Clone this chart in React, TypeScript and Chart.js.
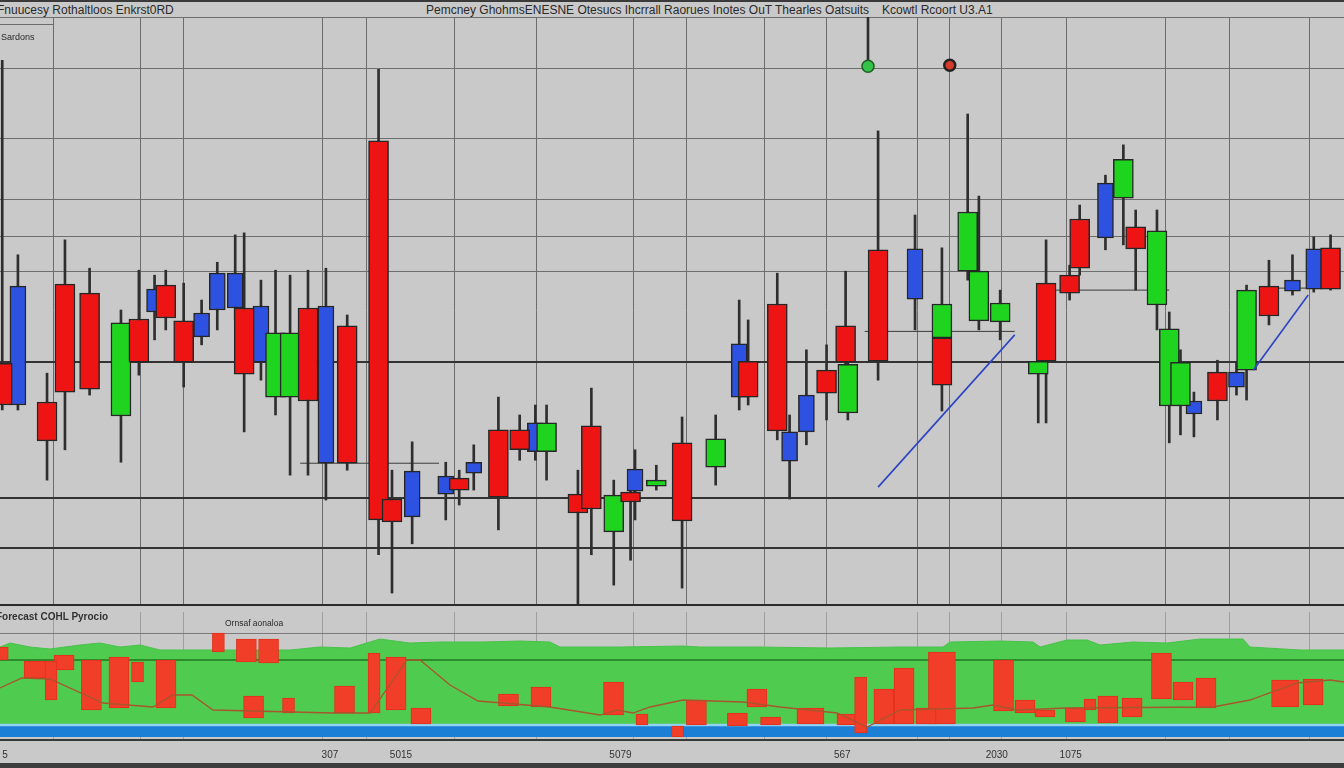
import React, { useEffect, useRef } from "react";
import { Chart, registerables } from "chart.js";

Chart.register(...registerables);

// ---------------- main panel data (time in session slots, price in points) ----------------
const candleTime = [
  0.1, 0.8, 2.1, 2.9, 4.0, 5.4, 6.2, 6.9, 7.4, 8.2,
  9.0, 9.7, 10.5, 10.9, 11.65, 12.3, 12.95, 13.75, 14.55, 15.5,
  16.9, 17.5, 18.4, 19.9, 20.5, 21.15, 22.25, 23.2, 23.9, 24.4,
  25.8, 26.4, 27.4, 28.15, 28.35, 29.3, 30.45, 31.95, 33.0, 33.4,
  34.7, 35.25, 36.0, 36.9, 37.75, 37.85, 39.2, 40.85, 42.05, 42.05,
  43.2, 43.7, 44.65, 46.35, 46.7, 47.75, 48.2, 49.35, 50.15, 50.7,
  51.65, 52.2, 52.7, 53.3, 54.35, 55.2, 55.65, 56.65, 57.7, 58.65,
  59.4,
];
const candleKind = [
  "down", "flat", "down", "down", "down", "up", "down", "flat", "down", "down",
  "flat", "flat", "flat", "down", "flat", "up", "up", "down", "flat", "down",
  "down", "down", "flat", "flat", "down", "flat", "down", "down", "flat", "up",
  "down", "down", "up", "down", "flat", "up", "down", "up", "flat", "down",
  "down", "flat", "flat", "down", "down", "up", "down", "flat", "up", "down",
  "up", "up", "up", "up", "down", "down", "down", "flat", "up", "down",
  "up", "up", "up", "flat", "down", "flat", "up", "down", "flat", "flat",
  "down",
];
const candleOpen = [
  48.6, 40.2, 40.8, 64.5, 62.7, 38.0, 57.5, 58.9, 64.3, 57.1,
  53.9, 59.3, 59.7, 59.7, 48.8, 41.8, 41.8, 59.7, 28.5, 56.1,
  93.3, 21.3, 17.7, 22.3, 25.5, 26.5, 35.2, 35.2, 30.8, 30.8,
  22.3, 36.0, 14.7, 22.7, 22.9, 23.9, 32.6, 27.7, 41.8, 49.0,
  60.5, 28.9, 34.8, 47.2, 56.1, 38.6, 71.4, 61.5, 53.7, 53.7,
  67.1, 57.1, 56.9, 46.4, 64.7, 66.3, 77.6, 73.8, 81.8, 76.0,
  60.3, 40.0, 40.0, 38.4, 46.8, 43.8, 47.2, 64.1, 63.1, 63.5,
  71.8,
];
const candleHigh = [
  109.5, 70.4, 46.6, 73.4, 67.7, 59.3, 67.3, 66.3, 67.3, 64.7,
  61.3, 68.9, 74.4, 74.8, 65.3, 67.3, 66.3, 67.3, 67.7, 58.3,
  107.7, 27.1, 32.8, 28.7, 27.1, 32.2, 41.8, 38.2, 40.2, 40.2,
  27.1, 43.6, 25.1, 27.1, 31.2, 28.1, 37.8, 38.2, 61.3, 57.3,
  66.7, 38.2, 51.3, 52.3, 67.1, 48.8, 95.3, 78.4, 71.8, 53.7,
  98.7, 82.2, 63.3, 50.3, 73.4, 68.3, 80.4, 86.4, 92.5, 79.4,
  79.4, 58.9, 51.3, 42.8, 49.2, 48.8, 64.3, 69.3, 70.4, 74.0,
  74.4,
];
const candleLow = [
  39.2, 39.2, 25.1, 31.2, 42.2, 28.7, 46.2, 53.3, 55.3, 43.8,
  52.3, 55.3, 57.3, 34.8, 45.2, 38.2, 26.1, 26.1, 21.1, 27.1,
  10.1, 2.4, 12.3, 17.1, 20.1, 23.1, 15.1, 29.1, 29.1, 25.1,
  0, 10.1, 4.0, 9.0, 17.1, 23.1, 3.4, 24.1, 39.2, 40.2,
  33.2, 21.3, 32.2, 37.2, 47.2, 37.2, 45.2, 55.3, 53.3, 39.0,
  65.3, 55.3, 53.3, 36.6, 36.6, 61.3, 66.3, 71.4, 72.4, 63.3,
  55.3, 32.6, 34.2, 33.8, 37.2, 42.2, 41.2, 56.3, 62.3, 62.9,
  63.3,
];
const candleClose = [
  40.2, 64.1, 33.0, 42.8, 43.4, 56.7, 48.8, 63.5, 57.7, 48.8,
  58.7, 66.7, 66.7, 46.4, 60.1, 54.7, 54.7, 41.0, 60.1, 28.5,
  17.1, 16.7, 26.9, 25.9, 23.1, 28.7, 21.7, 31.2, 36.6, 36.6,
  18.5, 19.3, 22.1, 20.7, 27.3, 25.1, 16.9, 33.4, 52.5, 41.8,
  35.0, 34.8, 42.2, 42.6, 48.8, 48.4, 49.0, 71.6, 60.5, 44.2,
  79.0, 67.1, 60.7, 49.0, 49.0, 62.7, 67.7, 84.8, 89.6, 71.6,
  75.2, 55.5, 48.8, 41.0, 41.0, 46.8, 63.3, 58.1, 65.3, 71.6,
  63.5,
];

const priceGridLevels = [11.5, 21.5, 48.8, 67.1, 74.0, 81.6, 93.7, 107.9, 118.2];
const heavyPriceLevels = [11.5, 21.5, 48.8];
const timeGridLines = [2.37, 6.25, 8.21, 14.38, 16.34, 20.31, 23.97, 28.26, 30.63, 34.15, 36.88, 40.94, 42.41, 44.73, 47.59, 52.01, 54.91, 58.44];

const trendLineA = [[39.2, 23.7], [45.3, 54.3]];
const trendLineB = [[55.95, 47.2], [58.4, 62.3]];
const levelSegments = [[13.4, 19.6, 28.5], [46.9, 52.2, 63.3], [56.8, 58.6, 63.7], [38.6, 45.3, 55.0]];
const buySignal = [38.75, 108.3];
const sellSignal = [42.4, 108.5];

// ---------------- lower panel data ----------------
const flowTime = [
  0, 0.45, 1.34, 2.23, 3.57, 4.46, 5.36, 6.25, 7.14, 8.93,
  11.16, 12.95, 14.29, 15.63, 16.96, 18.3, 19.64, 21.56, 23.21, 24.55,
  25.0, 27.68, 30.49, 31.25, 33.93, 37.05, 40.18, 42.1, 42.41, 44.64,
  46.12, 46.43, 47.63, 48.53, 49.11, 50.58, 52.1, 53.57, 55.49, 55.8,
  58.04, 60,
];
const flowLevel = [
  93, 97, 93, 91, 95, 97, 93, 95, 90, 90,
  90, 90, 93, 92, 101, 97, 98, 98, 99, 98,
  93, 93, 94, 93, 93, 92, 93, 93, 98, 99,
  98, 93, 100, 100, 95, 98, 97, 101, 101, 93,
  90, 90,
];
// [time, low, high]
const volNarrow = [
  [0.1, 80, 93], [2.28, 40, 79], [6.14, 58, 78], [9.75, 88, 107], [12.88, 27, 42],
  [16.7, 27, 87], [28.66, 15, 26], [30.25, 3, 14], [38.42, 7, 63], [48.66, 30, 41],
];
const volMid = [
  [2.86, 70, 85], [4.08, 30, 80], [5.31, 32, 83], [7.41, 32, 80], [11.0, 78, 101],
  [11.99, 77, 101], [11.32, 22, 44], [15.38, 27, 54], [17.68, 30, 83], [18.79, 16, 32],
  [22.7, 34, 46], [24.15, 33, 53], [27.39, 25, 58], [31.09, 15, 40], [32.92, 14, 27],
  [33.79, 33, 51], [34.4, 15, 23], [37.81, 15, 26], [39.46, 16, 51], [40.36, 16, 72],
  [41.34, 16, 32], [44.8, 29, 80], [45.76, 27, 40], [46.65, 23, 30], [48.01, 18, 32],
  [49.46, 17, 44], [50.54, 23, 42], [51.85, 41, 87], [52.81, 40, 58], [53.84, 32, 62],
  [58.62, 35, 61],
];
const volWide = [[1.68, 62, 79], [36.18, 16, 32], [42.05, 16, 88], [57.37, 33, 60]];

const avgTime = [
  0, 0.98, 2.23, 4.6, 6.83, 7.72, 8.57, 9.51, 14.87, 16.52,
  18.17, 18.75, 20.09, 21.34, 24.55, 26.79, 27.54, 28.26, 29.02, 30.49,
  33.17, 34.82, 37.37, 38.71, 40.18, 43.44, 44.33, 45.4, 47.63, 54.15,
  55.8, 57.9, 59.38, 60,
];
const avgValue = [
  52, 62, 61, 37, 33, 45, 45, 30, 27, 27,
  80, 80, 55, 39, 33, 25, 30, 27, 33, 40,
  38, 33, 27, 13, 30, 32, 35, 30, 32, 33,
  40, 57, 60, 58,
];
const bandTop = 15;
const bandBottom = 3;
const signalLevel = 80;
const lowerGridLevels = [107];
const axisLabelTimes = [0.22, 14.73, 17.9, 27.7, 37.6, 44.5, 47.8];
const axisLabels = ["5", "307", "5015", "5079", "567", "2030", "1075"];

const titleLeft = "Fnuucesy Rothaltloos Enkrst0RD";
const titleMain = "Pemcney GhohmsENESNE Otesucs Ihcrrall Raorues Inotes OuT Thearles Oatsuits";
const titleRight = "Kcowtl Rcoort U3.A1";
const legendLabel = "Sardons";
const lowerTitle = "Forecast COHL Pyrocio";
const lowerSubTitle = "Ornsaf aonaloa";

const BG = "#c9c9c9";
const FONT = "'Liberation Sans', Arial, sans-serif";

// draws the time labels under the lower panel at positions given by the chart's own x scale
const axisLabelPlugin = {
  id: "axisLabelPlugin",
  afterDraw(chart: any) {
    const x = chart.scales.x;
    const ctx = chart.ctx;
    ctx.save();
    ctx.fillStyle = "#333333";
    ctx.font = `10px ${FONT}`;
    ctx.textAlign = "center";
    ctx.textBaseline = "middle";
    axisLabelTimes.forEach((t, i) => {
      ctx.fillText(axisLabels[i], x.getPixelForValue(t), chart.chartArea.bottom + 15);
    });
    ctx.restore();
  },
};

export default function App() {
  const mainRef = useRef<HTMLCanvasElement | null>(null);
  const lowRef = useRef<HTMLCanvasElement | null>(null);

  useEffect(() => {
    document.body.style.margin = "0";
    document.body.style.background = BG;

    const bodies = (kind: string) =>
      candleTime
        .map((t, i) =>
          candleKind[i] === kind
            ? { x: t, y: [Math.min(candleOpen[i], candleClose[i]), Math.max(candleOpen[i], candleClose[i])] }
            : null
        )
        .filter(Boolean);

    const bodyStyle = {
      type: "bar",
      grouped: false,
      borderColor: "#262626",
      borderWidth: 1.5,
      borderSkipped: false,
      order: 3,
    };

    const main = new Chart(mainRef.current as HTMLCanvasElement, {
      type: "bar",
      data: {
        datasets: [
          ...levelSegments.map(([a, b, v]) => ({
            type: "line",
            data: [{ x: a, y: v }, { x: b, y: v }],
            borderColor: "#3c3c3c",
            borderWidth: 1,
            pointRadius: 0,
            order: 7,
          })),
          {
            type: "bar",
            grouped: false,
            data: candleTime.map((t, i) => ({ x: t, y: [candleLow[i], candleHigh[i]] })),
            backgroundColor: "#2e2e2e",
            barThickness: 2,
            order: 5,
          },
          {
            type: "bar",
            grouped: false,
            data: [{ x: buySignal[0], y: [buySignal[1], 118.2] }],
            backgroundColor: "#2e2e2e",
            barThickness: 2,
            order: 5,
          },
          { ...bodyStyle, data: bodies("down"), backgroundColor: "#ee1414", barThickness: 20 },
          { ...bodyStyle, data: bodies("up"), backgroundColor: "#1fd41f", barThickness: 20 },
          { ...bodyStyle, data: bodies("flat"), backgroundColor: "#2d52e2", barThickness: 16 },
          ...[trendLineA, trendLineB].map((seg) => ({
            type: "line",
            data: seg.map(([x, y]) => ({ x, y })),
            borderColor: "#2b44c4",
            borderWidth: 1.6,
            pointRadius: 0,
            order: 1,
          })),
          {
            type: "scatter",
            data: [{ x: buySignal[0], y: buySignal[1] }],
            backgroundColor: "#35c24a",
            borderColor: "#1d5e22",
            borderWidth: 1.5,
            pointRadius: 6,
            order: 0,
          },
          {
            type: "scatter",
            data: [{ x: sellSignal[0], y: sellSignal[1] }],
            backgroundColor: "#d8392a",
            borderColor: "#222222",
            borderWidth: 2.5,
            pointRadius: 5.5,
            order: 0,
          },
        ],
      },
      options: {
        animation: false,
        responsive: false,
        maintainAspectRatio: false,
        layout: { autoPadding: false, padding: { top: 17, bottom: 3, left: 0, right: 0 } },
        plugins: { legend: { display: false }, tooltip: { enabled: false }, title: { display: false } },
        scales: {
          x: {
            type: "linear",
            min: 0,
            max: 60,
            offset: false,
            afterBuildTicks: (s: any) => {
              s.ticks = timeGridLines.map((value) => ({ value }));
            },
            ticks: { display: false },
            grid: { color: "#6c6c6c", lineWidth: 1, drawTicks: false, offset: false },
            border: { display: true, color: "#2b2b2b", width: 2 },
          },
          y: {
            type: "linear",
            min: 0,
            max: 118.2,
            afterBuildTicks: (s: any) => {
              s.ticks = priceGridLevels.map((value) => ({ value }));
            },
            ticks: { display: false },
            grid: {
              drawTicks: false,
              color: (ctx: any) => (heavyPriceLevels.includes(ctx.tick?.value) ? "#333333" : "#6e6e6e"),
              lineWidth: (ctx: any) => (heavyPriceLevels.includes(ctx.tick?.value) ? 2 : 1),
            },
            border: { display: false },
          },
        },
      },
    } as any);

    const volStyle = {
      type: "bar",
      grouped: false,
      backgroundColor: "#f03e28",
      borderColor: "#e0301c",
      borderWidth: 1,
      borderSkipped: false,
      order: 5,
    };
    const volData = (arr: number[][]) => arr.map(([t, lo, hi]) => ({ x: t, y: [lo, hi] }));

    const low = new Chart(lowRef.current as HTMLCanvasElement, {
      type: "bar",
      data: {
        datasets: [
          {
            type: "line",
            data: flowTime.map((t, i) => ({ x: t, y: flowLevel[i] })),
            fill: { value: bandTop },
            backgroundColor: "#4fcb4f",
            borderColor: "#48c248",
            borderWidth: 1,
            pointRadius: 0,
            order: 10,
          },
          {
            type: "line",
            data: [{ x: 0, y: bandTop }, { x: 60, y: bandTop }],
            fill: { value: bandBottom },
            backgroundColor: "#1c7fd6",
            borderColor: "#8fd2f2",
            borderWidth: 2.5,
            pointRadius: 0,
            order: 9,
          },
          {
            type: "line",
            data: [{ x: 0, y: bandBottom + 1 }, { x: 60, y: bandBottom + 1 }],
            borderColor: "#9dd3ee",
            borderWidth: 2,
            pointRadius: 0,
            order: 9,
          },
          {
            type: "line",
            data: [{ x: 0, y: signalLevel }, { x: 60, y: signalLevel }],
            borderColor: "#2c8c2c",
            borderWidth: 2,
            pointRadius: 0,
            order: 8,
          },
          { ...volStyle, data: volData(volNarrow), barThickness: 12 },
          { ...volStyle, data: volData(volMid), barThickness: 20 },
          { ...volStyle, data: volData(volWide), barThickness: 27 },
          {
            type: "line",
            data: avgTime.map((t, i) => ({ x: t, y: avgValue[i] })),
            borderColor: "#a8562c",
            borderWidth: 1.3,
            pointRadius: 0,
            order: 2,
          },
        ],
      },
      plugins: [axisLabelPlugin],
      options: {
        animation: false,
        responsive: false,
        maintainAspectRatio: false,
        layout: { autoPadding: false, padding: { top: 6, bottom: 28, left: 0, right: 0 } },
        plugins: { legend: { display: false }, tooltip: { enabled: false } },
        scales: {
          x: {
            type: "linear",
            position: "bottom",
            min: 0,
            max: 60,
            offset: false,
            afterBuildTicks: (s: any) => {
              s.ticks = timeGridLines.map((value) => ({ value }));
            },
            ticks: { display: false },
            grid: { color: "rgba(80,80,80,0.35)", drawTicks: false, offset: false },
            border: { display: true, color: "#383838", width: 2 },
          },
          y: {
            type: "linear",
            min: 0,
            max: 128,
            afterBuildTicks: (s: any) => {
              s.ticks = lowerGridLevels.map((value) => ({ value }));
            },
            ticks: { display: false },
            grid: { color: "#7a7a7a", drawTicks: false },
            border: { display: false },
          },
        },
      },
    } as any);

    return () => {
      main.destroy();
      low.destroy();
    };
  }, []);

  const text = (s: string, left: number, top: number, size: number, extra: any = {}) => (
    <div
      style={{
        position: "absolute",
        left,
        top,
        fontSize: size,
        fontFamily: FONT,
        color: "#2a2a2a",
        whiteSpace: "nowrap",
        lineHeight: 1,
        ...extra,
      }}
    >
      {s}
    </div>
  );

  return (
    <div
      style={{
        position: "absolute",
        left: 0,
        top: 0,
        width: 1344,
        height: 768,
        background: BG,
        overflow: "hidden",
      }}
    >
      <div style={{ position: "absolute", left: 0, top: 0, width: 1344, height: 2, background: "#3a3a3a" }} />
      {text(titleLeft, -3, 4, 12)}
      {text(titleMain, 426, 4, 12)}
      {text(titleRight, 882, 4, 12)}
      <canvas
        ref={mainRef}
        width={1344}
        height={608}
        style={{ position: "absolute", left: 0, top: 0, width: 1344, height: 608, display: "block" }}
      />
      <div style={{ position: "absolute", left: 0, top: 24, width: 53, height: 1, background: "#6c6c6c" }} />
      {text(legendLabel, 1, 33, 9)}
      <canvas
        ref={lowRef}
        width={1344}
        height={162}
        style={{ position: "absolute", left: 0, top: 606, width: 1344, height: 162, display: "block" }}
      />
      {text(lowerTitle, -4, 612, 10, { fontWeight: "bold", color: "#333" })}
      {text(lowerSubTitle, 225, 619, 8.5)}
      <div style={{ position: "absolute", left: 0, top: 763, width: 1344, height: 5, background: "#3d3d3d" }} />
    </div>
  );
}
